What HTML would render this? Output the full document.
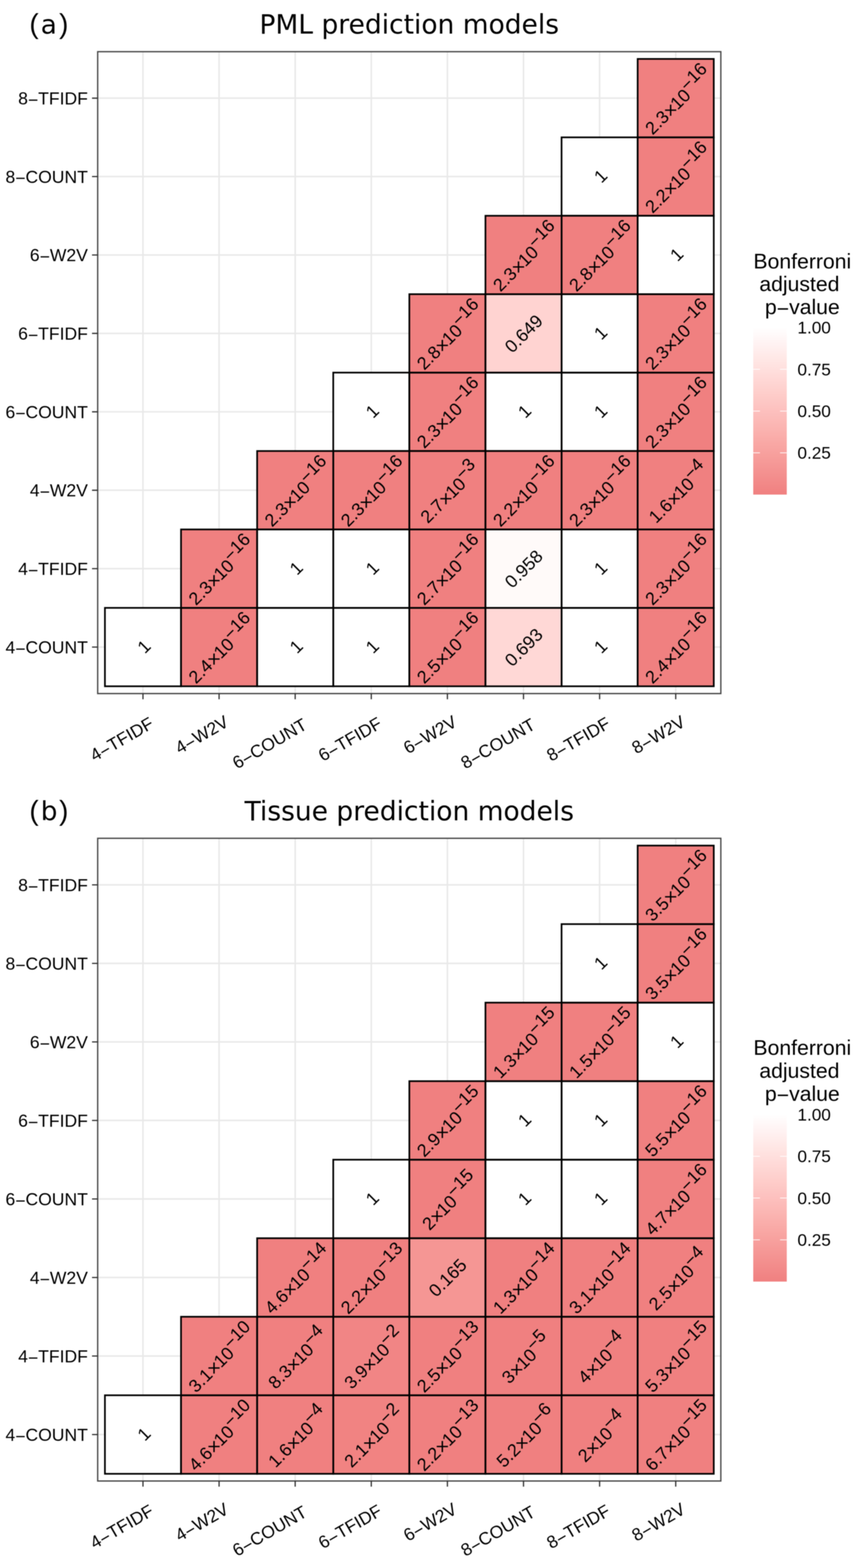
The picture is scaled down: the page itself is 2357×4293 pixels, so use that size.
<!DOCTYPE html>
<html><head><meta charset="utf-8"><title>Bonferroni adjusted p-values</title>
<style>
html,body{margin:0;padding:0;background:#fff}
body{width:2357px;height:4293px}
svg{display:block;filter:blur(0.9px)}
text{font-family:"Liberation Sans",sans-serif;fill:#000}
text.c{font-size:49px;text-anchor:middle}
text.a{font-size:48px;fill:#000}
text.t{font-family:"DejaVu Sans",sans-serif}
text.l{font-size:47px}
text.lt{font-size:58px}
</style></head><body>
<svg width="2357" height="4293" viewBox="0 0 2357 4293">
<rect width="2357" height="4293" fill="#fff"/>
<path d="M391.40 141.50V1898.90M599.74 141.50V1898.90M808.08 141.50V1898.90M1016.42 141.50V1898.90M1224.76 141.50V1898.90M1433.10 141.50V1898.90M1641.44 141.50V1898.90M1849.78 141.50V1898.90M267.40 1771.60H1973.30M267.40 1556.90H1973.30M267.40 1342.20H1973.30M267.40 1127.50H1973.30M267.40 912.80H1973.30M267.40 698.10H1973.30M267.40 483.40H1973.30M267.40 268.70H1973.30" stroke="#e9e9e9" stroke-width="4.2" fill="none"/>
<rect x="287.23" y="1664.25" width="208.34" height="214.70" fill="#ffffff"/>
<rect x="495.57" y="1664.25" width="208.34" height="214.70" fill="#f08080"/>
<rect x="703.91" y="1664.25" width="208.34" height="214.70" fill="#ffffff"/>
<rect x="912.25" y="1664.25" width="208.34" height="214.70" fill="#ffffff"/>
<rect x="1120.59" y="1664.25" width="208.34" height="214.70" fill="#f08080"/>
<rect x="1328.93" y="1664.25" width="208.34" height="214.70" fill="#ffd8d6"/>
<rect x="1537.27" y="1664.25" width="208.34" height="214.70" fill="#ffffff"/>
<rect x="1745.61" y="1664.25" width="208.34" height="214.70" fill="#f08080"/>
<rect x="495.57" y="1449.55" width="208.34" height="214.70" fill="#f08080"/>
<rect x="703.91" y="1449.55" width="208.34" height="214.70" fill="#ffffff"/>
<rect x="912.25" y="1449.55" width="208.34" height="214.70" fill="#ffffff"/>
<rect x="1120.59" y="1449.55" width="208.34" height="214.70" fill="#f08080"/>
<rect x="1328.93" y="1449.55" width="208.34" height="214.70" fill="#fffaf9"/>
<rect x="1537.27" y="1449.55" width="208.34" height="214.70" fill="#ffffff"/>
<rect x="1745.61" y="1449.55" width="208.34" height="214.70" fill="#f08080"/>
<rect x="703.91" y="1234.85" width="208.34" height="214.70" fill="#f08080"/>
<rect x="912.25" y="1234.85" width="208.34" height="214.70" fill="#f08080"/>
<rect x="1120.59" y="1234.85" width="208.34" height="214.70" fill="#f08080"/>
<rect x="1328.93" y="1234.85" width="208.34" height="214.70" fill="#f08080"/>
<rect x="1537.27" y="1234.85" width="208.34" height="214.70" fill="#f08080"/>
<rect x="1745.61" y="1234.85" width="208.34" height="214.70" fill="#f08080"/>
<rect x="912.25" y="1020.15" width="208.34" height="214.70" fill="#ffffff"/>
<rect x="1120.59" y="1020.15" width="208.34" height="214.70" fill="#f08080"/>
<rect x="1328.93" y="1020.15" width="208.34" height="214.70" fill="#ffffff"/>
<rect x="1537.27" y="1020.15" width="208.34" height="214.70" fill="#ffffff"/>
<rect x="1745.61" y="1020.15" width="208.34" height="214.70" fill="#f08080"/>
<rect x="1120.59" y="805.45" width="208.34" height="214.70" fill="#f08080"/>
<rect x="1328.93" y="805.45" width="208.34" height="214.70" fill="#ffd3d1"/>
<rect x="1537.27" y="805.45" width="208.34" height="214.70" fill="#ffffff"/>
<rect x="1745.61" y="805.45" width="208.34" height="214.70" fill="#f08080"/>
<rect x="1328.93" y="590.75" width="208.34" height="214.70" fill="#f08080"/>
<rect x="1537.27" y="590.75" width="208.34" height="214.70" fill="#f08080"/>
<rect x="1745.61" y="590.75" width="208.34" height="214.70" fill="#ffffff"/>
<rect x="1537.27" y="376.05" width="208.34" height="214.70" fill="#ffffff"/>
<rect x="1745.61" y="376.05" width="208.34" height="214.70" fill="#f08080"/>
<rect x="1745.61" y="161.35" width="208.34" height="214.70" fill="#f08080"/>
<rect x="287.23" y="1664.25" width="208.34" height="214.70" fill="none" stroke="#000" stroke-width="4.6"/>
<rect x="495.57" y="1664.25" width="208.34" height="214.70" fill="none" stroke="#000" stroke-width="4.6"/>
<rect x="703.91" y="1664.25" width="208.34" height="214.70" fill="none" stroke="#000" stroke-width="4.6"/>
<rect x="912.25" y="1664.25" width="208.34" height="214.70" fill="none" stroke="#000" stroke-width="4.6"/>
<rect x="1120.59" y="1664.25" width="208.34" height="214.70" fill="none" stroke="#000" stroke-width="4.6"/>
<rect x="1328.93" y="1664.25" width="208.34" height="214.70" fill="none" stroke="#000" stroke-width="4.6"/>
<rect x="1537.27" y="1664.25" width="208.34" height="214.70" fill="none" stroke="#000" stroke-width="4.6"/>
<rect x="1745.61" y="1664.25" width="208.34" height="214.70" fill="none" stroke="#000" stroke-width="4.6"/>
<rect x="495.57" y="1449.55" width="208.34" height="214.70" fill="none" stroke="#000" stroke-width="4.6"/>
<rect x="703.91" y="1449.55" width="208.34" height="214.70" fill="none" stroke="#000" stroke-width="4.6"/>
<rect x="912.25" y="1449.55" width="208.34" height="214.70" fill="none" stroke="#000" stroke-width="4.6"/>
<rect x="1120.59" y="1449.55" width="208.34" height="214.70" fill="none" stroke="#000" stroke-width="4.6"/>
<rect x="1328.93" y="1449.55" width="208.34" height="214.70" fill="none" stroke="#000" stroke-width="4.6"/>
<rect x="1537.27" y="1449.55" width="208.34" height="214.70" fill="none" stroke="#000" stroke-width="4.6"/>
<rect x="1745.61" y="1449.55" width="208.34" height="214.70" fill="none" stroke="#000" stroke-width="4.6"/>
<rect x="703.91" y="1234.85" width="208.34" height="214.70" fill="none" stroke="#000" stroke-width="4.6"/>
<rect x="912.25" y="1234.85" width="208.34" height="214.70" fill="none" stroke="#000" stroke-width="4.6"/>
<rect x="1120.59" y="1234.85" width="208.34" height="214.70" fill="none" stroke="#000" stroke-width="4.6"/>
<rect x="1328.93" y="1234.85" width="208.34" height="214.70" fill="none" stroke="#000" stroke-width="4.6"/>
<rect x="1537.27" y="1234.85" width="208.34" height="214.70" fill="none" stroke="#000" stroke-width="4.6"/>
<rect x="1745.61" y="1234.85" width="208.34" height="214.70" fill="none" stroke="#000" stroke-width="4.6"/>
<rect x="912.25" y="1020.15" width="208.34" height="214.70" fill="none" stroke="#000" stroke-width="4.6"/>
<rect x="1120.59" y="1020.15" width="208.34" height="214.70" fill="none" stroke="#000" stroke-width="4.6"/>
<rect x="1328.93" y="1020.15" width="208.34" height="214.70" fill="none" stroke="#000" stroke-width="4.6"/>
<rect x="1537.27" y="1020.15" width="208.34" height="214.70" fill="none" stroke="#000" stroke-width="4.6"/>
<rect x="1745.61" y="1020.15" width="208.34" height="214.70" fill="none" stroke="#000" stroke-width="4.6"/>
<rect x="1120.59" y="805.45" width="208.34" height="214.70" fill="none" stroke="#000" stroke-width="4.6"/>
<rect x="1328.93" y="805.45" width="208.34" height="214.70" fill="none" stroke="#000" stroke-width="4.6"/>
<rect x="1537.27" y="805.45" width="208.34" height="214.70" fill="none" stroke="#000" stroke-width="4.6"/>
<rect x="1745.61" y="805.45" width="208.34" height="214.70" fill="none" stroke="#000" stroke-width="4.6"/>
<rect x="1328.93" y="590.75" width="208.34" height="214.70" fill="none" stroke="#000" stroke-width="4.6"/>
<rect x="1537.27" y="590.75" width="208.34" height="214.70" fill="none" stroke="#000" stroke-width="4.6"/>
<rect x="1745.61" y="590.75" width="208.34" height="214.70" fill="none" stroke="#000" stroke-width="4.6"/>
<rect x="1537.27" y="376.05" width="208.34" height="214.70" fill="none" stroke="#000" stroke-width="4.6"/>
<rect x="1745.61" y="376.05" width="208.34" height="214.70" fill="none" stroke="#000" stroke-width="4.6"/>
<rect x="1745.61" y="161.35" width="208.34" height="214.70" fill="none" stroke="#000" stroke-width="4.6"/>
<text class="c" transform="translate(391.40,1771.60) rotate(-45)" x="3.0" y="17.80">1</text>
<text class="c" transform="translate(599.74,1771.60) rotate(-45)" x="0" y="27.80">2.4<tspan dy="4.0" font-size="55">×</tspan><tspan dx="-3.5" dy="-4.0">10</tspan><tspan dy="-17.00">−</tspan><tspan dy="-3.00">16</tspan></text>
<text class="c" transform="translate(808.08,1771.60) rotate(-45)" x="3.0" y="17.80">1</text>
<text class="c" transform="translate(1016.42,1771.60) rotate(-45)" x="3.0" y="17.80">1</text>
<text class="c" transform="translate(1224.76,1771.60) rotate(-45)" x="0" y="27.80">2.5<tspan dy="4.0" font-size="55">×</tspan><tspan dx="-3.5" dy="-4.0">10</tspan><tspan dy="-17.00">−</tspan><tspan dy="-3.00">16</tspan></text>
<text class="c" transform="translate(1433.10,1771.60) rotate(-45)" x="0" y="17.80">0.693</text>
<text class="c" transform="translate(1641.44,1771.60) rotate(-45)" x="3.0" y="17.80">1</text>
<text class="c" transform="translate(1849.78,1771.60) rotate(-45)" x="0" y="27.80">2.4<tspan dy="4.0" font-size="55">×</tspan><tspan dx="-3.5" dy="-4.0">10</tspan><tspan dy="-17.00">−</tspan><tspan dy="-3.00">16</tspan></text>
<text class="c" transform="translate(599.74,1556.90) rotate(-45)" x="0" y="27.80">2.3<tspan dy="4.0" font-size="55">×</tspan><tspan dx="-3.5" dy="-4.0">10</tspan><tspan dy="-17.00">−</tspan><tspan dy="-3.00">16</tspan></text>
<text class="c" transform="translate(808.08,1556.90) rotate(-45)" x="3.0" y="17.80">1</text>
<text class="c" transform="translate(1016.42,1556.90) rotate(-45)" x="3.0" y="17.80">1</text>
<text class="c" transform="translate(1224.76,1556.90) rotate(-45)" x="0" y="27.80">2.7<tspan dy="4.0" font-size="55">×</tspan><tspan dx="-3.5" dy="-4.0">10</tspan><tspan dy="-17.00">−</tspan><tspan dy="-3.00">16</tspan></text>
<text class="c" transform="translate(1433.10,1556.90) rotate(-45)" x="0" y="17.80">0.958</text>
<text class="c" transform="translate(1641.44,1556.90) rotate(-45)" x="3.0" y="17.80">1</text>
<text class="c" transform="translate(1849.78,1556.90) rotate(-45)" x="0" y="27.80">2.3<tspan dy="4.0" font-size="55">×</tspan><tspan dx="-3.5" dy="-4.0">10</tspan><tspan dy="-17.00">−</tspan><tspan dy="-3.00">16</tspan></text>
<text class="c" transform="translate(808.08,1342.20) rotate(-45)" x="0" y="27.80">2.3<tspan dy="4.0" font-size="55">×</tspan><tspan dx="-3.5" dy="-4.0">10</tspan><tspan dy="-17.00">−</tspan><tspan dy="-3.00">16</tspan></text>
<text class="c" transform="translate(1016.42,1342.20) rotate(-45)" x="0" y="27.80">2.3<tspan dy="4.0" font-size="55">×</tspan><tspan dx="-3.5" dy="-4.0">10</tspan><tspan dy="-17.00">−</tspan><tspan dy="-3.00">16</tspan></text>
<text class="c" transform="translate(1224.76,1342.20) rotate(-45)" x="0" y="27.80">2.7<tspan dy="4.0" font-size="55">×</tspan><tspan dx="-3.5" dy="-4.0">10</tspan><tspan dy="-17.00">−</tspan><tspan dy="-3.00">3</tspan></text>
<text class="c" transform="translate(1433.10,1342.20) rotate(-45)" x="0" y="27.80">2.2<tspan dy="4.0" font-size="55">×</tspan><tspan dx="-3.5" dy="-4.0">10</tspan><tspan dy="-17.00">−</tspan><tspan dy="-3.00">16</tspan></text>
<text class="c" transform="translate(1641.44,1342.20) rotate(-45)" x="0" y="27.80">2.3<tspan dy="4.0" font-size="55">×</tspan><tspan dx="-3.5" dy="-4.0">10</tspan><tspan dy="-17.00">−</tspan><tspan dy="-3.00">16</tspan></text>
<text class="c" transform="translate(1849.78,1342.20) rotate(-45)" x="0" y="27.80">1.6<tspan dy="4.0" font-size="55">×</tspan><tspan dx="-3.5" dy="-4.0">10</tspan><tspan dy="-17.00">−</tspan><tspan dy="-3.00">4</tspan></text>
<text class="c" transform="translate(1016.42,1127.50) rotate(-45)" x="3.0" y="17.80">1</text>
<text class="c" transform="translate(1224.76,1127.50) rotate(-45)" x="0" y="27.80">2.3<tspan dy="4.0" font-size="55">×</tspan><tspan dx="-3.5" dy="-4.0">10</tspan><tspan dy="-17.00">−</tspan><tspan dy="-3.00">16</tspan></text>
<text class="c" transform="translate(1433.10,1127.50) rotate(-45)" x="3.0" y="17.80">1</text>
<text class="c" transform="translate(1641.44,1127.50) rotate(-45)" x="3.0" y="17.80">1</text>
<text class="c" transform="translate(1849.78,1127.50) rotate(-45)" x="0" y="27.80">2.3<tspan dy="4.0" font-size="55">×</tspan><tspan dx="-3.5" dy="-4.0">10</tspan><tspan dy="-17.00">−</tspan><tspan dy="-3.00">16</tspan></text>
<text class="c" transform="translate(1224.76,912.80) rotate(-45)" x="0" y="27.80">2.8<tspan dy="4.0" font-size="55">×</tspan><tspan dx="-3.5" dy="-4.0">10</tspan><tspan dy="-17.00">−</tspan><tspan dy="-3.00">16</tspan></text>
<text class="c" transform="translate(1433.10,912.80) rotate(-45)" x="0" y="17.80">0.649</text>
<text class="c" transform="translate(1641.44,912.80) rotate(-45)" x="3.0" y="17.80">1</text>
<text class="c" transform="translate(1849.78,912.80) rotate(-45)" x="0" y="27.80">2.3<tspan dy="4.0" font-size="55">×</tspan><tspan dx="-3.5" dy="-4.0">10</tspan><tspan dy="-17.00">−</tspan><tspan dy="-3.00">16</tspan></text>
<text class="c" transform="translate(1433.10,698.10) rotate(-45)" x="0" y="27.80">2.3<tspan dy="4.0" font-size="55">×</tspan><tspan dx="-3.5" dy="-4.0">10</tspan><tspan dy="-17.00">−</tspan><tspan dy="-3.00">16</tspan></text>
<text class="c" transform="translate(1641.44,698.10) rotate(-45)" x="0" y="27.80">2.8<tspan dy="4.0" font-size="55">×</tspan><tspan dx="-3.5" dy="-4.0">10</tspan><tspan dy="-17.00">−</tspan><tspan dy="-3.00">16</tspan></text>
<text class="c" transform="translate(1849.78,698.10) rotate(-45)" x="3.0" y="17.80">1</text>
<text class="c" transform="translate(1641.44,483.40) rotate(-45)" x="3.0" y="17.80">1</text>
<text class="c" transform="translate(1849.78,483.40) rotate(-45)" x="0" y="27.80">2.2<tspan dy="4.0" font-size="55">×</tspan><tspan dx="-3.5" dy="-4.0">10</tspan><tspan dy="-17.00">−</tspan><tspan dy="-3.00">16</tspan></text>
<text class="c" transform="translate(1849.78,268.70) rotate(-45)" x="0" y="27.80">2.3<tspan dy="4.0" font-size="55">×</tspan><tspan dx="-3.5" dy="-4.0">10</tspan><tspan dy="-17.00">−</tspan><tspan dy="-3.00">16</tspan></text>
<rect x="267.40" y="141.50" width="1705.90" height="1757.40" fill="none" stroke="#474747" stroke-width="3.6"/>
<path d="M251.90 1771.60H267.40M251.90 1556.90H267.40M251.90 1342.20H267.40M251.90 1127.50H267.40M251.90 912.80H267.40M251.90 698.10H267.40M251.90 483.40H267.40M251.90 268.70H267.40M391.40 1898.90V1914.40M599.74 1898.90V1914.40M808.08 1898.90V1914.40M1016.42 1898.90V1914.40M1224.76 1898.90V1914.40M1433.10 1898.90V1914.40M1641.44 1898.90V1914.40M1849.78 1898.90V1914.40" stroke="#333" stroke-width="3.4" fill="none"/>
<text class="a" x="240.50" y="1788.70" text-anchor="end">4<tspan dy="3.8">−</tspan><tspan dy="-3.8">COUNT</tspan></text>
<text class="a" x="240.50" y="1574.00" text-anchor="end">4<tspan dy="3.8">−</tspan><tspan dy="-3.8">TFIDF</tspan></text>
<text class="a" x="240.50" y="1359.30" text-anchor="end">4<tspan dy="3.8">−</tspan><tspan dy="-3.8">W2V</tspan></text>
<text class="a" x="240.50" y="1144.60" text-anchor="end">6<tspan dy="3.8">−</tspan><tspan dy="-3.8">COUNT</tspan></text>
<text class="a" x="240.50" y="929.90" text-anchor="end">6<tspan dy="3.8">−</tspan><tspan dy="-3.8">TFIDF</tspan></text>
<text class="a" x="240.50" y="715.20" text-anchor="end">6<tspan dy="3.8">−</tspan><tspan dy="-3.8">W2V</tspan></text>
<text class="a" x="240.50" y="500.50" text-anchor="end">8<tspan dy="3.8">−</tspan><tspan dy="-3.8">COUNT</tspan></text>
<text class="a" x="240.50" y="285.80" text-anchor="end">8<tspan dy="3.8">−</tspan><tspan dy="-3.8">TFIDF</tspan></text>
<text class="a" transform="translate(423.90,1990.40) rotate(-30)" text-anchor="end">4<tspan dy="3.8">−</tspan><tspan dy="-3.8">TFIDF</tspan></text>
<text class="a" transform="translate(629.24,1985.90) rotate(-30)" text-anchor="end">4<tspan dy="3.8">−</tspan><tspan dy="-3.8">W2V</tspan></text>
<text class="a" transform="translate(843.88,1993.80) rotate(-30)" text-anchor="end">6<tspan dy="3.8">−</tspan><tspan dy="-3.8">COUNT</tspan></text>
<text class="a" transform="translate(1048.92,1990.40) rotate(-30)" text-anchor="end">6<tspan dy="3.8">−</tspan><tspan dy="-3.8">TFIDF</tspan></text>
<text class="a" transform="translate(1254.26,1985.90) rotate(-30)" text-anchor="end">6<tspan dy="3.8">−</tspan><tspan dy="-3.8">W2V</tspan></text>
<text class="a" transform="translate(1468.90,1993.80) rotate(-30)" text-anchor="end">8<tspan dy="3.8">−</tspan><tspan dy="-3.8">COUNT</tspan></text>
<text class="a" transform="translate(1673.94,1990.40) rotate(-30)" text-anchor="end">8<tspan dy="3.8">−</tspan><tspan dy="-3.8">TFIDF</tspan></text>
<text class="a" transform="translate(1879.28,1985.90) rotate(-30)" text-anchor="end">8<tspan dy="3.8">−</tspan><tspan dy="-3.8">W2V</tspan></text>
<text class="t" x="1120.35" y="92.00" text-anchor="middle" font-size="72.5">PML prediction models</text>
<text x="80.6" y="91.10" font-size="76.3">(</text>
<text class="t" x="111.60" y="91.50" font-size="72">a</text>
<text x="161.8" y="91.10" font-size="76.3">)</text>
<defs><linearGradient id="ga" x1="0" y1="0" x2="0" y2="1"><stop offset="0.00" stop-color="#ffffff"/><stop offset="0.10" stop-color="#fff2f2"/><stop offset="0.20" stop-color="#ffe6e4"/><stop offset="0.30" stop-color="#ffd9d7"/><stop offset="0.40" stop-color="#fecdca"/><stop offset="0.50" stop-color="#fdc0be"/><stop offset="0.60" stop-color="#fbb4b1"/><stop offset="0.70" stop-color="#f9a7a4"/><stop offset="0.80" stop-color="#f69a98"/><stop offset="0.90" stop-color="#f38d8c"/><stop offset="1.00" stop-color="#f08080"/></linearGradient></defs>
<rect x="2062" y="896.65" width="91.80" height="457.45" fill="url(#ga)"/>
<path d="M2062 1239.74h18.36M2135.44 1239.74H2153.8M2062 1125.38h18.36M2135.44 1125.38H2153.8M2062 1011.01h18.36M2135.44 1011.01H2153.8M2062 896.65h18.36M2135.44 896.65H2153.8" stroke="#fff" stroke-width="2" fill="none"/>
<text class="l" x="2183" y="913.15">1.00</text>
<text class="l" x="2183" y="1027.51">0.75</text>
<text class="l" x="2183" y="1141.88">0.50</text>
<text class="l" x="2183" y="1256.24">0.25</text>
<text class="lt" x="2196.4" y="734.60" text-anchor="middle">Bonferroni</text>
<text class="lt" x="2196.4" y="797.40" text-anchor="middle" xml:space="preserve">adjusted </text>
<text class="lt" x="2196.4" y="860.20" text-anchor="middle">p<tspan dy="4.6">−</tspan><tspan dy="-4.6">value</tspan></text>
<path d="M391.40 2295.20V4054.80M599.74 2295.20V4054.80M808.08 2295.20V4054.80M1016.42 2295.20V4054.80M1224.76 2295.20V4054.80M1433.10 2295.20V4054.80M1641.44 2295.20V4054.80M1849.78 2295.20V4054.80M267.40 3927.60H1973.30M267.40 3712.60H1973.30M267.40 3497.60H1973.30M267.40 3282.60H1973.30M267.40 3067.60H1973.30M267.40 2852.60H1973.30M267.40 2637.60H1973.30M267.40 2422.60H1973.30" stroke="#e9e9e9" stroke-width="4.2" fill="none"/>
<rect x="287.23" y="3820.10" width="208.34" height="215.00" fill="#ffffff"/>
<rect x="495.57" y="3820.10" width="208.34" height="215.00" fill="#f08080"/>
<rect x="703.91" y="3820.10" width="208.34" height="215.00" fill="#f08080"/>
<rect x="912.25" y="3820.10" width="208.34" height="215.00" fill="#f18382"/>
<rect x="1120.59" y="3820.10" width="208.34" height="215.00" fill="#f08080"/>
<rect x="1328.93" y="3820.10" width="208.34" height="215.00" fill="#f08080"/>
<rect x="1537.27" y="3820.10" width="208.34" height="215.00" fill="#f08080"/>
<rect x="1745.61" y="3820.10" width="208.34" height="215.00" fill="#f08080"/>
<rect x="495.57" y="3605.10" width="208.34" height="215.00" fill="#f08080"/>
<rect x="703.91" y="3605.10" width="208.34" height="215.00" fill="#f08080"/>
<rect x="912.25" y="3605.10" width="208.34" height="215.00" fill="#f18585"/>
<rect x="1120.59" y="3605.10" width="208.34" height="215.00" fill="#f08080"/>
<rect x="1328.93" y="3605.10" width="208.34" height="215.00" fill="#f08080"/>
<rect x="1537.27" y="3605.10" width="208.34" height="215.00" fill="#f08080"/>
<rect x="1745.61" y="3605.10" width="208.34" height="215.00" fill="#f08080"/>
<rect x="703.91" y="3390.10" width="208.34" height="215.00" fill="#f08080"/>
<rect x="912.25" y="3390.10" width="208.34" height="215.00" fill="#f08080"/>
<rect x="1120.59" y="3390.10" width="208.34" height="215.00" fill="#f59694"/>
<rect x="1328.93" y="3390.10" width="208.34" height="215.00" fill="#f08080"/>
<rect x="1537.27" y="3390.10" width="208.34" height="215.00" fill="#f08080"/>
<rect x="1745.61" y="3390.10" width="208.34" height="215.00" fill="#f08080"/>
<rect x="912.25" y="3175.10" width="208.34" height="215.00" fill="#ffffff"/>
<rect x="1120.59" y="3175.10" width="208.34" height="215.00" fill="#f08080"/>
<rect x="1328.93" y="3175.10" width="208.34" height="215.00" fill="#ffffff"/>
<rect x="1537.27" y="3175.10" width="208.34" height="215.00" fill="#ffffff"/>
<rect x="1745.61" y="3175.10" width="208.34" height="215.00" fill="#f08080"/>
<rect x="1120.59" y="2960.10" width="208.34" height="215.00" fill="#f08080"/>
<rect x="1328.93" y="2960.10" width="208.34" height="215.00" fill="#ffffff"/>
<rect x="1537.27" y="2960.10" width="208.34" height="215.00" fill="#ffffff"/>
<rect x="1745.61" y="2960.10" width="208.34" height="215.00" fill="#f08080"/>
<rect x="1328.93" y="2745.10" width="208.34" height="215.00" fill="#f08080"/>
<rect x="1537.27" y="2745.10" width="208.34" height="215.00" fill="#f08080"/>
<rect x="1745.61" y="2745.10" width="208.34" height="215.00" fill="#ffffff"/>
<rect x="1537.27" y="2530.10" width="208.34" height="215.00" fill="#ffffff"/>
<rect x="1745.61" y="2530.10" width="208.34" height="215.00" fill="#f08080"/>
<rect x="1745.61" y="2315.10" width="208.34" height="215.00" fill="#f08080"/>
<rect x="287.23" y="3820.10" width="208.34" height="215.00" fill="none" stroke="#000" stroke-width="4.6"/>
<rect x="495.57" y="3820.10" width="208.34" height="215.00" fill="none" stroke="#000" stroke-width="4.6"/>
<rect x="703.91" y="3820.10" width="208.34" height="215.00" fill="none" stroke="#000" stroke-width="4.6"/>
<rect x="912.25" y="3820.10" width="208.34" height="215.00" fill="none" stroke="#000" stroke-width="4.6"/>
<rect x="1120.59" y="3820.10" width="208.34" height="215.00" fill="none" stroke="#000" stroke-width="4.6"/>
<rect x="1328.93" y="3820.10" width="208.34" height="215.00" fill="none" stroke="#000" stroke-width="4.6"/>
<rect x="1537.27" y="3820.10" width="208.34" height="215.00" fill="none" stroke="#000" stroke-width="4.6"/>
<rect x="1745.61" y="3820.10" width="208.34" height="215.00" fill="none" stroke="#000" stroke-width="4.6"/>
<rect x="495.57" y="3605.10" width="208.34" height="215.00" fill="none" stroke="#000" stroke-width="4.6"/>
<rect x="703.91" y="3605.10" width="208.34" height="215.00" fill="none" stroke="#000" stroke-width="4.6"/>
<rect x="912.25" y="3605.10" width="208.34" height="215.00" fill="none" stroke="#000" stroke-width="4.6"/>
<rect x="1120.59" y="3605.10" width="208.34" height="215.00" fill="none" stroke="#000" stroke-width="4.6"/>
<rect x="1328.93" y="3605.10" width="208.34" height="215.00" fill="none" stroke="#000" stroke-width="4.6"/>
<rect x="1537.27" y="3605.10" width="208.34" height="215.00" fill="none" stroke="#000" stroke-width="4.6"/>
<rect x="1745.61" y="3605.10" width="208.34" height="215.00" fill="none" stroke="#000" stroke-width="4.6"/>
<rect x="703.91" y="3390.10" width="208.34" height="215.00" fill="none" stroke="#000" stroke-width="4.6"/>
<rect x="912.25" y="3390.10" width="208.34" height="215.00" fill="none" stroke="#000" stroke-width="4.6"/>
<rect x="1120.59" y="3390.10" width="208.34" height="215.00" fill="none" stroke="#000" stroke-width="4.6"/>
<rect x="1328.93" y="3390.10" width="208.34" height="215.00" fill="none" stroke="#000" stroke-width="4.6"/>
<rect x="1537.27" y="3390.10" width="208.34" height="215.00" fill="none" stroke="#000" stroke-width="4.6"/>
<rect x="1745.61" y="3390.10" width="208.34" height="215.00" fill="none" stroke="#000" stroke-width="4.6"/>
<rect x="912.25" y="3175.10" width="208.34" height="215.00" fill="none" stroke="#000" stroke-width="4.6"/>
<rect x="1120.59" y="3175.10" width="208.34" height="215.00" fill="none" stroke="#000" stroke-width="4.6"/>
<rect x="1328.93" y="3175.10" width="208.34" height="215.00" fill="none" stroke="#000" stroke-width="4.6"/>
<rect x="1537.27" y="3175.10" width="208.34" height="215.00" fill="none" stroke="#000" stroke-width="4.6"/>
<rect x="1745.61" y="3175.10" width="208.34" height="215.00" fill="none" stroke="#000" stroke-width="4.6"/>
<rect x="1120.59" y="2960.10" width="208.34" height="215.00" fill="none" stroke="#000" stroke-width="4.6"/>
<rect x="1328.93" y="2960.10" width="208.34" height="215.00" fill="none" stroke="#000" stroke-width="4.6"/>
<rect x="1537.27" y="2960.10" width="208.34" height="215.00" fill="none" stroke="#000" stroke-width="4.6"/>
<rect x="1745.61" y="2960.10" width="208.34" height="215.00" fill="none" stroke="#000" stroke-width="4.6"/>
<rect x="1328.93" y="2745.10" width="208.34" height="215.00" fill="none" stroke="#000" stroke-width="4.6"/>
<rect x="1537.27" y="2745.10" width="208.34" height="215.00" fill="none" stroke="#000" stroke-width="4.6"/>
<rect x="1745.61" y="2745.10" width="208.34" height="215.00" fill="none" stroke="#000" stroke-width="4.6"/>
<rect x="1537.27" y="2530.10" width="208.34" height="215.00" fill="none" stroke="#000" stroke-width="4.6"/>
<rect x="1745.61" y="2530.10" width="208.34" height="215.00" fill="none" stroke="#000" stroke-width="4.6"/>
<rect x="1745.61" y="2315.10" width="208.34" height="215.00" fill="none" stroke="#000" stroke-width="4.6"/>
<text class="c" transform="translate(391.40,3927.60) rotate(-45)" x="3.0" y="17.80">1</text>
<text class="c" transform="translate(599.74,3927.60) rotate(-45)" x="0" y="27.80">4.6<tspan dy="4.0" font-size="55">×</tspan><tspan dx="-3.5" dy="-4.0">10</tspan><tspan dy="-17.00">−</tspan><tspan dy="-3.00">10</tspan></text>
<text class="c" transform="translate(808.08,3927.60) rotate(-45)" x="0" y="27.80">1.6<tspan dy="4.0" font-size="55">×</tspan><tspan dx="-3.5" dy="-4.0">10</tspan><tspan dy="-17.00">−</tspan><tspan dy="-3.00">4</tspan></text>
<text class="c" transform="translate(1016.42,3927.60) rotate(-45)" x="0" y="27.80">2.1<tspan dy="4.0" font-size="55">×</tspan><tspan dx="-3.5" dy="-4.0">10</tspan><tspan dy="-17.00">−</tspan><tspan dy="-3.00">2</tspan></text>
<text class="c" transform="translate(1224.76,3927.60) rotate(-45)" x="0" y="27.80">2.2<tspan dy="4.0" font-size="55">×</tspan><tspan dx="-3.5" dy="-4.0">10</tspan><tspan dy="-17.00">−</tspan><tspan dy="-3.00">13</tspan></text>
<text class="c" transform="translate(1433.10,3927.60) rotate(-45)" x="0" y="27.80">5.2<tspan dy="4.0" font-size="55">×</tspan><tspan dx="-3.5" dy="-4.0">10</tspan><tspan dy="-17.00">−</tspan><tspan dy="-3.00">6</tspan></text>
<text class="c" transform="translate(1641.44,3927.60) rotate(-45)" x="0" y="27.80">2<tspan dy="4.0" font-size="55">×</tspan><tspan dx="-3.5" dy="-4.0">10</tspan><tspan dy="-17.00">−</tspan><tspan dy="-3.00">4</tspan></text>
<text class="c" transform="translate(1849.78,3927.60) rotate(-45)" x="0" y="27.80">6.7<tspan dy="4.0" font-size="55">×</tspan><tspan dx="-3.5" dy="-4.0">10</tspan><tspan dy="-17.00">−</tspan><tspan dy="-3.00">15</tspan></text>
<text class="c" transform="translate(599.74,3712.60) rotate(-45)" x="0" y="27.80">3.1<tspan dy="4.0" font-size="55">×</tspan><tspan dx="-3.5" dy="-4.0">10</tspan><tspan dy="-17.00">−</tspan><tspan dy="-3.00">10</tspan></text>
<text class="c" transform="translate(808.08,3712.60) rotate(-45)" x="0" y="27.80">8.3<tspan dy="4.0" font-size="55">×</tspan><tspan dx="-3.5" dy="-4.0">10</tspan><tspan dy="-17.00">−</tspan><tspan dy="-3.00">4</tspan></text>
<text class="c" transform="translate(1016.42,3712.60) rotate(-45)" x="0" y="27.80">3.9<tspan dy="4.0" font-size="55">×</tspan><tspan dx="-3.5" dy="-4.0">10</tspan><tspan dy="-17.00">−</tspan><tspan dy="-3.00">2</tspan></text>
<text class="c" transform="translate(1224.76,3712.60) rotate(-45)" x="0" y="27.80">2.5<tspan dy="4.0" font-size="55">×</tspan><tspan dx="-3.5" dy="-4.0">10</tspan><tspan dy="-17.00">−</tspan><tspan dy="-3.00">13</tspan></text>
<text class="c" transform="translate(1433.10,3712.60) rotate(-45)" x="0" y="27.80">3<tspan dy="4.0" font-size="55">×</tspan><tspan dx="-3.5" dy="-4.0">10</tspan><tspan dy="-17.00">−</tspan><tspan dy="-3.00">5</tspan></text>
<text class="c" transform="translate(1641.44,3712.60) rotate(-45)" x="0" y="27.80">4<tspan dy="4.0" font-size="55">×</tspan><tspan dx="-3.5" dy="-4.0">10</tspan><tspan dy="-17.00">−</tspan><tspan dy="-3.00">4</tspan></text>
<text class="c" transform="translate(1849.78,3712.60) rotate(-45)" x="0" y="27.80">5.3<tspan dy="4.0" font-size="55">×</tspan><tspan dx="-3.5" dy="-4.0">10</tspan><tspan dy="-17.00">−</tspan><tspan dy="-3.00">15</tspan></text>
<text class="c" transform="translate(808.08,3497.60) rotate(-45)" x="0" y="27.80">4.6<tspan dy="4.0" font-size="55">×</tspan><tspan dx="-3.5" dy="-4.0">10</tspan><tspan dy="-17.00">−</tspan><tspan dy="-3.00">14</tspan></text>
<text class="c" transform="translate(1016.42,3497.60) rotate(-45)" x="0" y="27.80">2.2<tspan dy="4.0" font-size="55">×</tspan><tspan dx="-3.5" dy="-4.0">10</tspan><tspan dy="-17.00">−</tspan><tspan dy="-3.00">13</tspan></text>
<text class="c" transform="translate(1224.76,3497.60) rotate(-45)" x="0" y="17.80">0.165</text>
<text class="c" transform="translate(1433.10,3497.60) rotate(-45)" x="0" y="27.80">1.3<tspan dy="4.0" font-size="55">×</tspan><tspan dx="-3.5" dy="-4.0">10</tspan><tspan dy="-17.00">−</tspan><tspan dy="-3.00">14</tspan></text>
<text class="c" transform="translate(1641.44,3497.60) rotate(-45)" x="0" y="27.80">3.1<tspan dy="4.0" font-size="55">×</tspan><tspan dx="-3.5" dy="-4.0">10</tspan><tspan dy="-17.00">−</tspan><tspan dy="-3.00">14</tspan></text>
<text class="c" transform="translate(1849.78,3497.60) rotate(-45)" x="0" y="27.80">2.5<tspan dy="4.0" font-size="55">×</tspan><tspan dx="-3.5" dy="-4.0">10</tspan><tspan dy="-17.00">−</tspan><tspan dy="-3.00">4</tspan></text>
<text class="c" transform="translate(1016.42,3282.60) rotate(-45)" x="3.0" y="17.80">1</text>
<text class="c" transform="translate(1224.76,3282.60) rotate(-45)" x="0" y="27.80">2<tspan dy="4.0" font-size="55">×</tspan><tspan dx="-3.5" dy="-4.0">10</tspan><tspan dy="-17.00">−</tspan><tspan dy="-3.00">15</tspan></text>
<text class="c" transform="translate(1433.10,3282.60) rotate(-45)" x="3.0" y="17.80">1</text>
<text class="c" transform="translate(1641.44,3282.60) rotate(-45)" x="3.0" y="17.80">1</text>
<text class="c" transform="translate(1849.78,3282.60) rotate(-45)" x="0" y="27.80">4.7<tspan dy="4.0" font-size="55">×</tspan><tspan dx="-3.5" dy="-4.0">10</tspan><tspan dy="-17.00">−</tspan><tspan dy="-3.00">16</tspan></text>
<text class="c" transform="translate(1224.76,3067.60) rotate(-45)" x="0" y="27.80">2.9<tspan dy="4.0" font-size="55">×</tspan><tspan dx="-3.5" dy="-4.0">10</tspan><tspan dy="-17.00">−</tspan><tspan dy="-3.00">15</tspan></text>
<text class="c" transform="translate(1433.10,3067.60) rotate(-45)" x="3.0" y="17.80">1</text>
<text class="c" transform="translate(1641.44,3067.60) rotate(-45)" x="3.0" y="17.80">1</text>
<text class="c" transform="translate(1849.78,3067.60) rotate(-45)" x="0" y="27.80">5.5<tspan dy="4.0" font-size="55">×</tspan><tspan dx="-3.5" dy="-4.0">10</tspan><tspan dy="-17.00">−</tspan><tspan dy="-3.00">16</tspan></text>
<text class="c" transform="translate(1433.10,2852.60) rotate(-45)" x="0" y="27.80">1.3<tspan dy="4.0" font-size="55">×</tspan><tspan dx="-3.5" dy="-4.0">10</tspan><tspan dy="-17.00">−</tspan><tspan dy="-3.00">15</tspan></text>
<text class="c" transform="translate(1641.44,2852.60) rotate(-45)" x="0" y="27.80">1.5<tspan dy="4.0" font-size="55">×</tspan><tspan dx="-3.5" dy="-4.0">10</tspan><tspan dy="-17.00">−</tspan><tspan dy="-3.00">15</tspan></text>
<text class="c" transform="translate(1849.78,2852.60) rotate(-45)" x="3.0" y="17.80">1</text>
<text class="c" transform="translate(1641.44,2637.60) rotate(-45)" x="3.0" y="17.80">1</text>
<text class="c" transform="translate(1849.78,2637.60) rotate(-45)" x="0" y="27.80">3.5<tspan dy="4.0" font-size="55">×</tspan><tspan dx="-3.5" dy="-4.0">10</tspan><tspan dy="-17.00">−</tspan><tspan dy="-3.00">16</tspan></text>
<text class="c" transform="translate(1849.78,2422.60) rotate(-45)" x="0" y="27.80">3.5<tspan dy="4.0" font-size="55">×</tspan><tspan dx="-3.5" dy="-4.0">10</tspan><tspan dy="-17.00">−</tspan><tspan dy="-3.00">16</tspan></text>
<rect x="267.40" y="2295.20" width="1705.90" height="1759.60" fill="none" stroke="#474747" stroke-width="3.6"/>
<path d="M251.90 3927.60H267.40M251.90 3712.60H267.40M251.90 3497.60H267.40M251.90 3282.60H267.40M251.90 3067.60H267.40M251.90 2852.60H267.40M251.90 2637.60H267.40M251.90 2422.60H267.40M391.40 4054.80V4070.30M599.74 4054.80V4070.30M808.08 4054.80V4070.30M1016.42 4054.80V4070.30M1224.76 4054.80V4070.30M1433.10 4054.80V4070.30M1641.44 4054.80V4070.30M1849.78 4054.80V4070.30" stroke="#333" stroke-width="3.4" fill="none"/>
<text class="a" x="240.50" y="3944.70" text-anchor="end">4<tspan dy="3.8">−</tspan><tspan dy="-3.8">COUNT</tspan></text>
<text class="a" x="240.50" y="3729.70" text-anchor="end">4<tspan dy="3.8">−</tspan><tspan dy="-3.8">TFIDF</tspan></text>
<text class="a" x="240.50" y="3514.70" text-anchor="end">4<tspan dy="3.8">−</tspan><tspan dy="-3.8">W2V</tspan></text>
<text class="a" x="240.50" y="3299.70" text-anchor="end">6<tspan dy="3.8">−</tspan><tspan dy="-3.8">COUNT</tspan></text>
<text class="a" x="240.50" y="3084.70" text-anchor="end">6<tspan dy="3.8">−</tspan><tspan dy="-3.8">TFIDF</tspan></text>
<text class="a" x="240.50" y="2869.70" text-anchor="end">6<tspan dy="3.8">−</tspan><tspan dy="-3.8">W2V</tspan></text>
<text class="a" x="240.50" y="2654.70" text-anchor="end">8<tspan dy="3.8">−</tspan><tspan dy="-3.8">COUNT</tspan></text>
<text class="a" x="240.50" y="2439.70" text-anchor="end">8<tspan dy="3.8">−</tspan><tspan dy="-3.8">TFIDF</tspan></text>
<text class="a" transform="translate(423.90,4146.30) rotate(-30)" text-anchor="end">4<tspan dy="3.8">−</tspan><tspan dy="-3.8">TFIDF</tspan></text>
<text class="a" transform="translate(629.24,4141.80) rotate(-30)" text-anchor="end">4<tspan dy="3.8">−</tspan><tspan dy="-3.8">W2V</tspan></text>
<text class="a" transform="translate(843.88,4149.70) rotate(-30)" text-anchor="end">6<tspan dy="3.8">−</tspan><tspan dy="-3.8">COUNT</tspan></text>
<text class="a" transform="translate(1048.92,4146.30) rotate(-30)" text-anchor="end">6<tspan dy="3.8">−</tspan><tspan dy="-3.8">TFIDF</tspan></text>
<text class="a" transform="translate(1254.26,4141.80) rotate(-30)" text-anchor="end">6<tspan dy="3.8">−</tspan><tspan dy="-3.8">W2V</tspan></text>
<text class="a" transform="translate(1468.90,4149.70) rotate(-30)" text-anchor="end">8<tspan dy="3.8">−</tspan><tspan dy="-3.8">COUNT</tspan></text>
<text class="a" transform="translate(1673.94,4146.30) rotate(-30)" text-anchor="end">8<tspan dy="3.8">−</tspan><tspan dy="-3.8">TFIDF</tspan></text>
<text class="a" transform="translate(1879.28,4141.80) rotate(-30)" text-anchor="end">8<tspan dy="3.8">−</tspan><tspan dy="-3.8">W2V</tspan></text>
<text class="t" x="1120.35" y="2245.50" text-anchor="middle" font-size="72.5">Tissue prediction models</text>
<text x="80.6" y="2244.60" font-size="76.3">(</text>
<text class="t" x="111.60" y="2245.00" font-size="72">b</text>
<text x="161.8" y="2244.60" font-size="76.3">)</text>
<defs><linearGradient id="gb" x1="0" y1="0" x2="0" y2="1"><stop offset="0.00" stop-color="#ffffff"/><stop offset="0.10" stop-color="#fff2f2"/><stop offset="0.20" stop-color="#ffe6e4"/><stop offset="0.30" stop-color="#ffd9d7"/><stop offset="0.40" stop-color="#fecdca"/><stop offset="0.50" stop-color="#fdc0be"/><stop offset="0.60" stop-color="#fbb4b1"/><stop offset="0.70" stop-color="#f9a7a4"/><stop offset="0.80" stop-color="#f69a98"/><stop offset="0.90" stop-color="#f38d8c"/><stop offset="1.00" stop-color="#f08080"/></linearGradient></defs>
<rect x="2062" y="3051.35" width="91.80" height="457.45" fill="url(#gb)"/>
<path d="M2062 3394.44h18.36M2135.44 3394.44H2153.8M2062 3280.07h18.36M2135.44 3280.07H2153.8M2062 3165.71h18.36M2135.44 3165.71H2153.8M2062 3051.35h18.36M2135.44 3051.35H2153.8" stroke="#fff" stroke-width="2" fill="none"/>
<text class="l" x="2183" y="3067.85">1.00</text>
<text class="l" x="2183" y="3182.21">0.75</text>
<text class="l" x="2183" y="3296.57">0.50</text>
<text class="l" x="2183" y="3410.94">0.25</text>
<text class="lt" x="2196.4" y="2888.10" text-anchor="middle">Bonferroni</text>
<text class="lt" x="2196.4" y="2950.90" text-anchor="middle" xml:space="preserve">adjusted </text>
<text class="lt" x="2196.4" y="3013.70" text-anchor="middle">p<tspan dy="4.6">−</tspan><tspan dy="-4.6">value</tspan></text>
</svg>
</body></html>
